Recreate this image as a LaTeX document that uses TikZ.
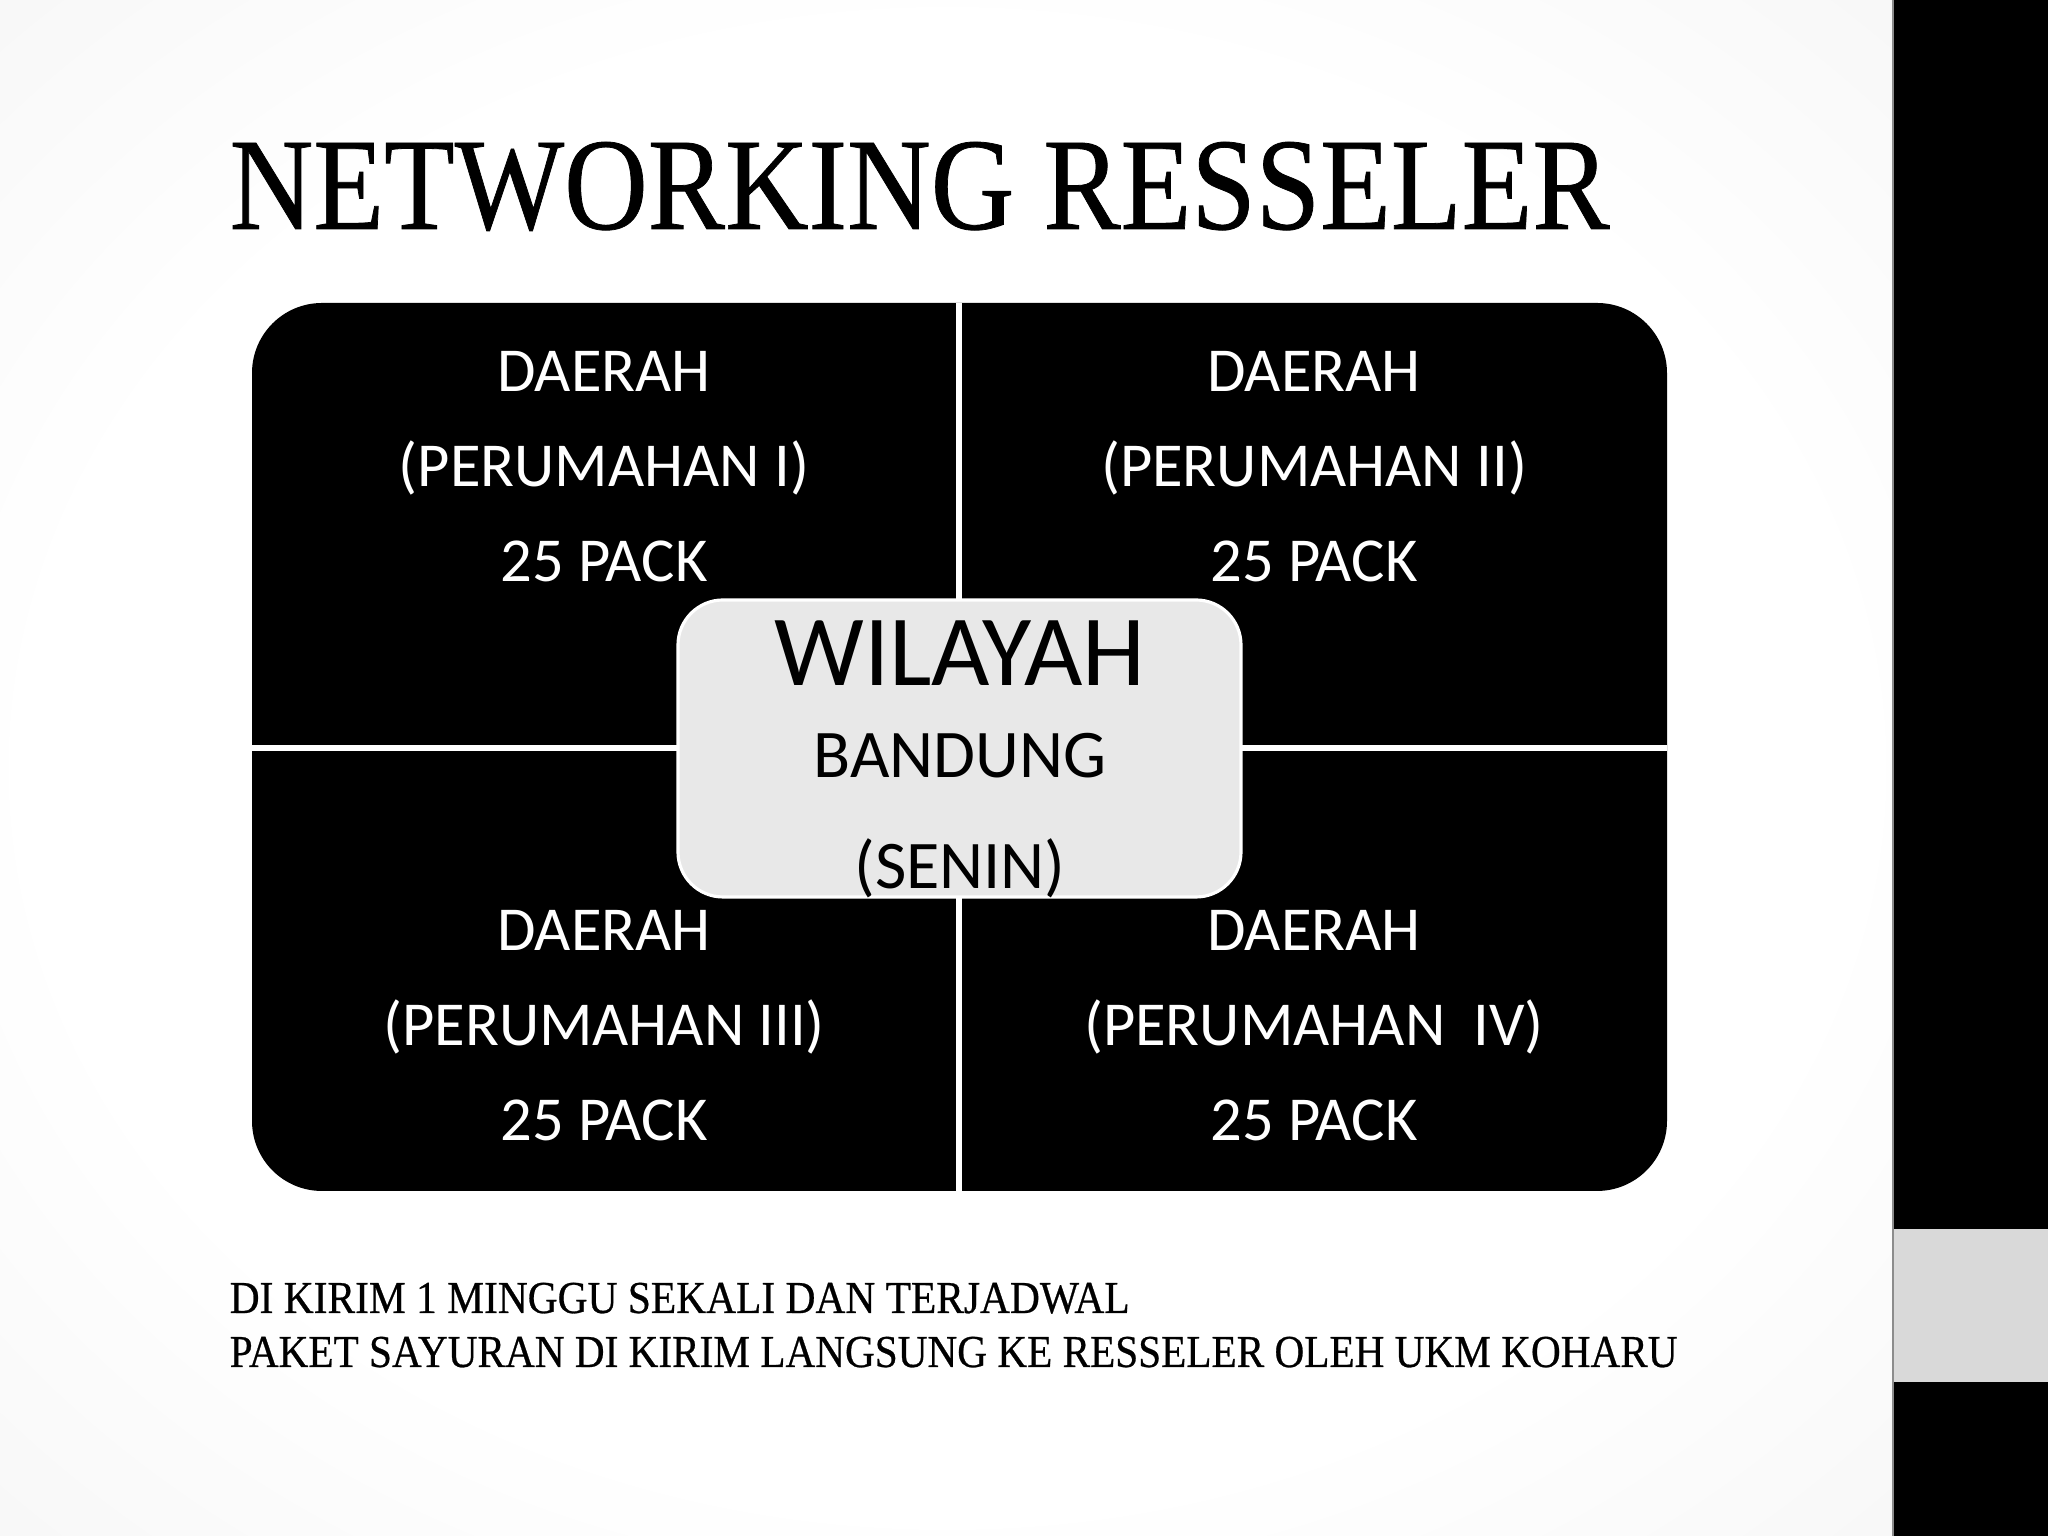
\documentclass[tikz,border=0pt]{standalone}
\usepackage{fontspec}
\usepackage{graphicx}
\newfontfamily\carlito{Carlito}
\newfontfamily\slideserif[FakeBold=.6]{Liberation Serif}
\pgfdeclareradialshading{vignette}{\pgfpoint{0bp}{0bp}}{color(0bp)=(white); color(24bp)=(white); color(40bp)=(black!4); color(50bp)=(black!9)}

\begin{document}
\begin{tikzpicture}[
  daerah/.style={font=\carlito\fontsize{17.8}{22}\selectfont,text=white,anchor=base,inner sep=0pt},
  pusat/.style={font=\carlito\fontsize{19.4}{24}\selectfont,anchor=base,inner sep=0pt},
  catatan/.style={anchor=base west,inner sep=0pt,font=\slideserif\fontsize{13}{16}\selectfont},
  gap/.style={white,line width=1.7pt}]
	 \useasboundingbox(0,0)rectangle(20.48,15.36);
	 \shade[shading=vignette](0,0)rectangle(18.94,15.36);
	 % right bar
	 \fill[black](18.94,0)rectangle(20.48,15.36);
	 \fill[black!15](18.94,1.54)rectangle(20.48,3.07);
	 \draw[black!45,line width=.4pt](18.93,0)--(18.93,15.36);
	 \node[anchor=base west,inner sep=0pt,font=\slideserif\fontsize{37.4}{44}\selectfont](title)at(2.29,13.07){\resizebox{13.8cm}{\height}{NETWORKING RESSELER}};
	 % matrix
	 \fill[black,rounded corners=.7cm](2.52,3.45)rectangle(16.67,12.33);
	 \coordinate(vt)at(9.59,12.33);\coordinate(vb)at(9.59,3.45);
	 \coordinate(hl)at(2.52,7.88);\coordinate(hr)at(16.67,7.88);
	 \draw[gap](vt)--(vb);
	 \draw[gap](hl)--(hr);
	 \foreach \q/\x/\y/\num in {tl/6.04/11.44/I,tr/13.14/11.44/II,bl/6.04/5.85/III,br/13.14/5.85/\ IV}{
	   \node[daerah](\q-a)at(\x,\y){DAERAH};
	   \node[daerah](\q-b)at(\x,\y-.95){(PERUMAHAN \num)};
	   \node[daerah](\q-c)at(\x,\y-1.9){25 PACK};
	 }
	 \node[draw=white,line width=.9pt,fill=black!9,rounded corners=.45cm,minimum width=5.63cm,minimum height=2.97cm,inner sep=0pt](box)at(9.595,7.875){};
	 \node[pusat,font=\carlito\fontsize{28.7}{34}\selectfont](wil)at(9.60,8.50){WILAYAH};
	 \node[pusat](bdg)at(9.60,7.58){BANDUNG};
	 \node[pusat](hari)at(9.60,6.47){(SENIN)};
	 % note
	 \node[catatan](note1)at(2.29,2.23){\resizebox{9.0cm}{\height}{DI KIRIM 1 MINGGU SEKALI DAN TERJADWAL}};
	 \node[catatan](note2)at(2.29,1.69){\resizebox{14.48cm}{\height}{PAKET SAYURAN DI KIRIM LANGSUNG KE RESSELER OLEH UKM KOHARU}};
	\end{tikzpicture}
\end{document}
